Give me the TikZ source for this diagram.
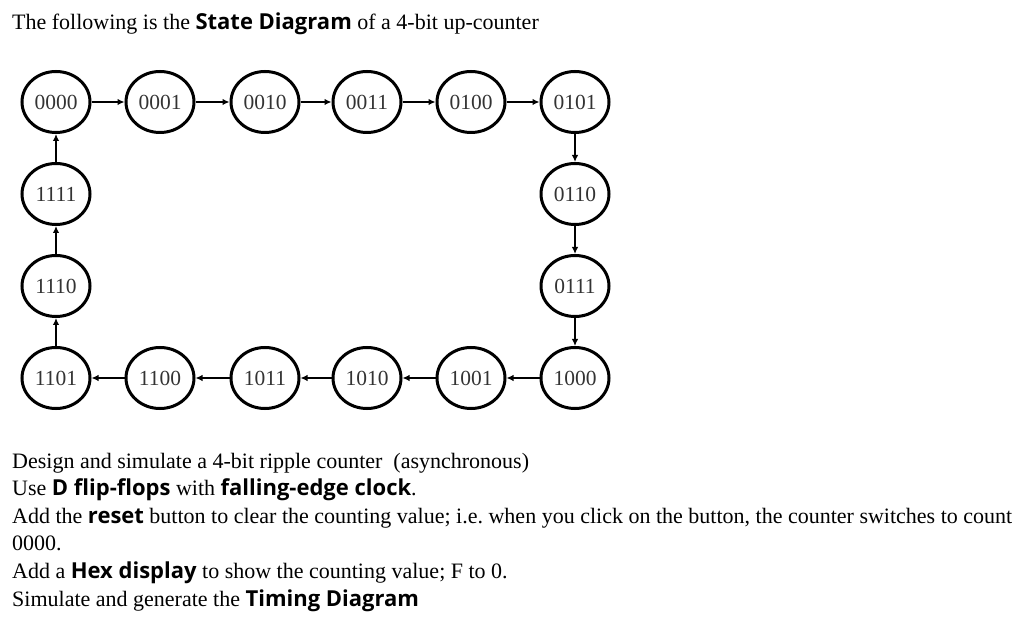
\documentclass[tikz,border=0pt]{standalone}
\usepackage{fontspec}
\setmainfont{Liberation Serif}
\newfontfamily\osans{Open Sans}
\usetikzlibrary{arrows.meta,shapes.geometric}
\newcommand{\hb}[1]{{\osans\bfseries #1}}
\frenchspacing
\begin{document}
\begin{tikzpicture}[x=1pt,y=-1pt,
  st/.style={draw, line width=3pt, ellipse, minimum width=68pt, minimum height=61pt, inner sep=0pt, font=\fontsize{21.5}{21.5}\selectfont, text=black!80},
  tr/.style={line width=2pt, -{Latex[length=7pt,width=6.5pt]}},
  txt/.style={anchor=base west, inner sep=0pt, font=\fontsize{22}{26}\selectfont}]
\useasboundingbox (0,0) rectangle (1020,617);
\node[txt] (title) at (12,30) {The following is the \hb{State Diagram} of a 4-bit up-counter};
% states
\node[st] (s0) at (56,102) {0000};
\node[st] (s1) at (160,102) {0001};
\node[st] (s2) at (265,102) {0010};
\node[st] (s3) at (367,102) {0011};
\node[st] (s4) at (471,102) {0100};
\node[st] (s5) at (575,102) {0101};
\node[st] (s6) at (575,194) {0110};
\node[st] (s7) at (575,286) {0111};
\node[st] (s8) at (575,378) {1000};
\node[st] (s9) at (471,378) {1001};
\node[st] (s10) at (367,378) {1010};
\node[st] (s11) at (265,378) {1011};
\node[st] (s12) at (160,378) {1100};
\node[st] (s13) at (56,378) {1101};
\node[st] (s14) at (56,286) {1110};
\node[st] (s15) at (56,194) {1111};
\foreach \a/\b in {s0/s1,s1/s2,s2/s3,s3/s4,s4/s5,s5/s6,s6/s7,s7/s8,s8/s9,s9/s10,s10/s11,s11/s12,s12/s13,s13/s14,s14/s15,s15/s0}
  \draw[tr] (\a) -- (\b);
% text
\node[txt] (l1) at (12,468) {Design and simulate a 4-bit ripple counter \ (asynchronous)};
\node[txt] (l2) at (12,495) {Use \hb{D flip-flops} with \hb{falling-edge clock}.};
\node[txt] (l3) at (12,523) {Add the \hb{reset} button to clear the counting value; i.e. when you click on the button, the counter switches to count};
\node[txt] (l4) at (12,550) {0000.};
\node[txt] (l5) at (12,578) {Add a \hb{Hex display} to show the counting value; F to 0.};
\node[txt] (l6) at (12,606) {Simulate and generate the \hb{Timing Diagram}};
\end{tikzpicture}
\end{document}
